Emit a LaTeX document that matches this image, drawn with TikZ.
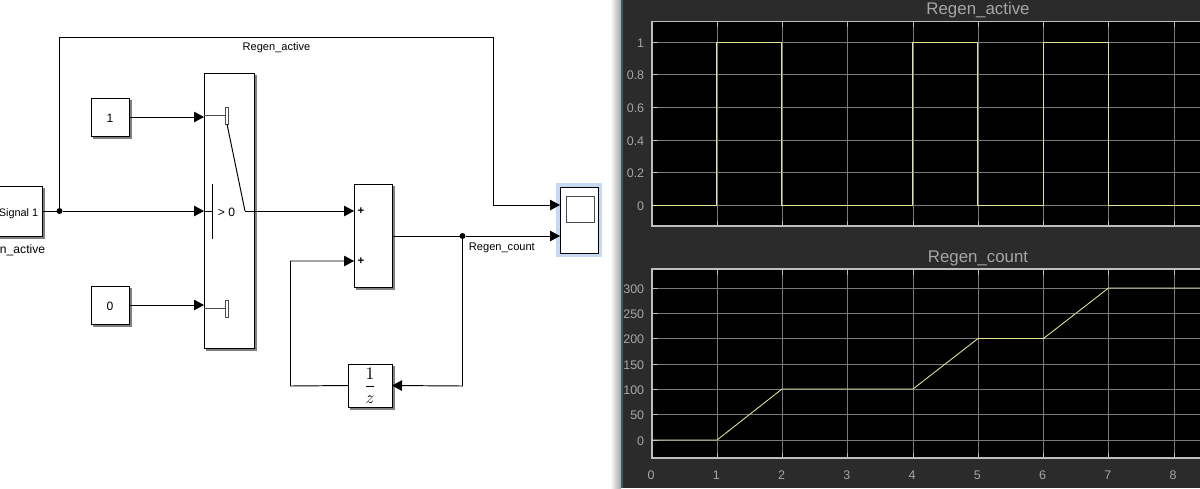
\documentclass[tikz,border=0pt]{standalone}
\usepackage{fontspec}
\setmainfont{Liberation Sans}
\usetikzlibrary{positioning}
\usetikzlibrary{arrows.meta,calc,shadows}
\definecolor{panelgray}{HTML}{2B2B2B}
\definecolor{gridgray}{HTML}{7A7A7A}
\definecolor{framegray}{HTML}{BEBEBE}
\definecolor{ticktext}{HTML}{A6A6A6}
\definecolor{traceyellow}{HTML}{E4E494}
\definecolor{panelteal}{HTML}{2F5F6B}
\definecolor{scopeblue}{HTML}{C5D9F1}
\tikzset{
	block/.style={draw=black,fill=white,line width=0.55pt,inner sep=0pt,outer sep=0pt,copy shadow={shadow xshift=0.04cm,shadow yshift=-0.04cm,draw=gray,fill=gray}},
	blocktext/.style={font=\fontsize{6.9pt}{7pt}\selectfont,text height=0.2cm,text depth=0cm},
	wire/.style={draw=black,line width=0.55pt},
	feed/.style={wire,-{Triangle[length=0.2cm,width=0.21cm]}},
	junction/.style={circle,fill=black,inner sep=0pt,outer sep=0pt,minimum size=0.12cm},
	wirelabel/.style={font=\fontsize{6.3pt}{7pt}\selectfont,inner sep=0.1cm},
	gate/.style={draw=black!70,fill=white,line width=0.4pt},
	ticklabel/.style={text=ticktext,font=\fontsize{7.1pt}{8pt}\selectfont,inner sep=0pt,yshift=-0.02cm},
	plottitle/.style={text=ticktext,font=\fontsize{9.6pt}{10pt}\selectfont,inner sep=0pt},
	gridline/.style={draw=gridgray,line width=0.45pt},
	trace/.style={draw=traceyellow,line width=0.5pt},
}
\begin{document}
\begin{tikzpicture}[x=0.02cm,y=-0.02cm]
	\useasboundingbox (0,0) rectangle (1200,488);
	\fill[white] (0,0) rectangle (1200,488);

	\node[block,blocktext,font=\fontsize{6.2pt}{7pt}\selectfont,minimum width=0.94cm,minimum height=1cm] (signal) at (18.5,211) {Signal 1};
	\node[blocktext,anchor=east,inner sep=0pt] (signame) at (45.5,248) {n\_active};
	\node[block,blocktext,minimum width=0.76cm,minimum height=0.76cm] (constA) at (110,117) {1};
	\node[block,blocktext,minimum width=0.76cm,minimum height=0.76cm] (constB) at (110,305) {0};
	\node[block,minimum width=1cm,minimum height=5.5cm] (switch) at (229,210.5) {};
	\node[block,minimum width=0.76cm,minimum height=2.06cm] (sum) at (373,235.5) {};
	\node[block,minimum width=0.88cm,minimum height=0.86cm] (delay) at (370,385.5) {\fontsize{10pt}{10pt}\selectfont$\displaystyle\frac{1}{z}$};
	\fill[scopeblue] (556,183) rectangle (602,257);
	\node[draw=black,fill=white,line width=0.55pt,inner sep=0pt,outer sep=0pt,minimum width=0.76cm,minimum height=1.32cm] (scope) at (579,220) {};
	\draw[draw=black!70,line width=0.55pt] (566,196) rectangle (594,222);

	\node[junction] (splitA) at (59.5,211) {};
	\node[junction] (splitB) at (462.5,236) {};
	\coordinate (topL) at (59.5,37);
	\coordinate (topR) at (493.5,37);
	\coordinate (scopeA) at (560,205);
	\coordinate (scopeR) at (493.5,205);
	\coordinate (scopeB) at (560,236);
	\coordinate (swA) at (204,117);
	\coordinate (swC) at (204,211);
	\coordinate (swB) at (204,305);
	\coordinate (swOut) at (245,211);
	\coordinate (sumA) at (354,211);
	\coordinate (sumB) at (354,261);
	\coordinate (sumOut) at (392,236);
	\coordinate (backR) at (462.5,386);
	\coordinate (backL) at (290.5,386);
	\coordinate (backU) at (290.5,261);

	\draw[wire] (signal.east) -- (splitA);
	\draw[feed] (splitA) -- (swC);
	\draw[wire] (splitA) -- (topL) -- (topR) node[midway,below,wirelabel] {Regen\_active};
	\draw[feed] (topR) -- (scopeR) -- (scopeA);
	\draw[feed] (constA) -- (swA);
	\draw[feed] (constB) -- (swB);
	\draw[feed] (swOut) -- (sumA);
	\draw[wire] (sumOut) -- (splitB);
	\draw[feed] (splitB) -- (scopeB) node[pos=0.385,below=0.02cm,wirelabel] {Regen\_count};
	\draw[feed] (splitB) -- (backR) -- (delay.east);
	\draw[feed] (delay.west) -- (backL) -- (backU) -- (sumB);

	\draw[draw=black!70,line width=0.5pt] (204,115) -- (226,115);
	\draw[draw=black!70,line width=0.5pt] (204,308) -- (226,308);
	\draw[gate] (225.5,107.5) rectangle (228,124);
	\draw[gate] (225.5,300.5) rectangle (228,317);
	\draw[wire] (204,211) -- (212.5,211);
	\draw[wire] (212.5,184) -- (212.5,239);
	\draw[wire] (227,124) -- (245,211);
	\node[blocktext,inner sep=0pt] (thresh) at (226.5,211) {> 0};
	\node[inner sep=0pt,font=\fontsize{6.5pt}{7pt}\selectfont\bfseries] (plusA) at (361,211.5) {+};
	\node[inner sep=0pt,font=\fontsize{6.5pt}{7pt}\selectfont\bfseries] (plusB) at (361,261.5) {+};

	\shade[left color=white,right color=gray!70] (610,0) rectangle (621,488);
	\fill[panelgray] (621,0) rectangle (1200,488);
	\fill[panelteal] (621,0) rectangle (623,488);

	\fill[black] (652,21.5) rectangle (1200,226);
	\fill[black] (652,269) rectangle (1200,458);
	\foreach \t in {1,...,8} {
		\draw[gridline] ({652+65.25*\t},21.5) -- ({652+65.25*\t},226);
		\draw[gridline] ({652+65.25*\t},269) -- ({652+65.25*\t},458);
		\draw[draw=framegray,line width=0.5pt] ({652+65.25*\t},21.5) -- ({652+65.25*\t},27);
		\draw[draw=framegray,line width=0.5pt] ({652+65.25*\t},226) -- ({652+65.25*\t},220.5);
		\draw[draw=framegray,line width=0.5pt] ({652+65.25*\t},269) -- ({652+65.25*\t},274.5);
		\draw[draw=framegray,line width=0.5pt] ({652+65.25*\t},458) -- ({652+65.25*\t},452.5);
	}
	\foreach \y/\lab in {42/1,74.5/0.8,107.5/0.6,140.5/0.4,172.5/0.2,205/0} {
		\draw[gridline] (652,\y) -- (1200,\y);
		\draw[draw=framegray,line width=0.5pt] (652,\y) -- (658,\y);
		\node[ticklabel,anchor=east] at (644.5,\y) {\lab};
	}
	\foreach \y/\lab in {288/300,313/250,338.5/200,364/150,389.5/100,414.5/50,440/0} {
		\draw[gridline] (652,\y) -- (1200,\y);
		\draw[draw=framegray,line width=0.5pt] (652,\y) -- (658,\y);
		\node[ticklabel,anchor=east] at (644.5,\y) {\lab};
	}
	\foreach \t in {0,...,8} {
		\node[ticklabel] at ({651+65.25*\t},474.5) {\t};
	}
	\draw[draw=framegray,line width=0.6pt] (1200,21.5) -- (652,21.5) -- (652,226) -- (1200,226);
	\draw[draw=framegray,line width=0.6pt] (1200,269) -- (652,269) -- (652,458) -- (1200,458);

	\draw[trace] (652,205) -- (716.5,205) -- (716.5,42) -- (781.5,42) -- (781.5,205) -- (912.5,205) -- (912.5,42) -- (977.5,42) -- (977.5,205) -- (1043,205) -- (1043,42) -- (1108.5,42) -- (1108.5,205) -- (1200,205);
	\draw[trace] (652,440) -- (717,440) -- (782,389) -- (913,389) -- (978,338.5) -- (1043.5,338.5) -- (1108.5,288) -- (1200,288);

	\node[plottitle] (titleA) at (978,10) {Regen\_active};
	\node[plottitle] (titleB) at (978,258.5) {Regen\_count};
\end{tikzpicture}
\end{document}
